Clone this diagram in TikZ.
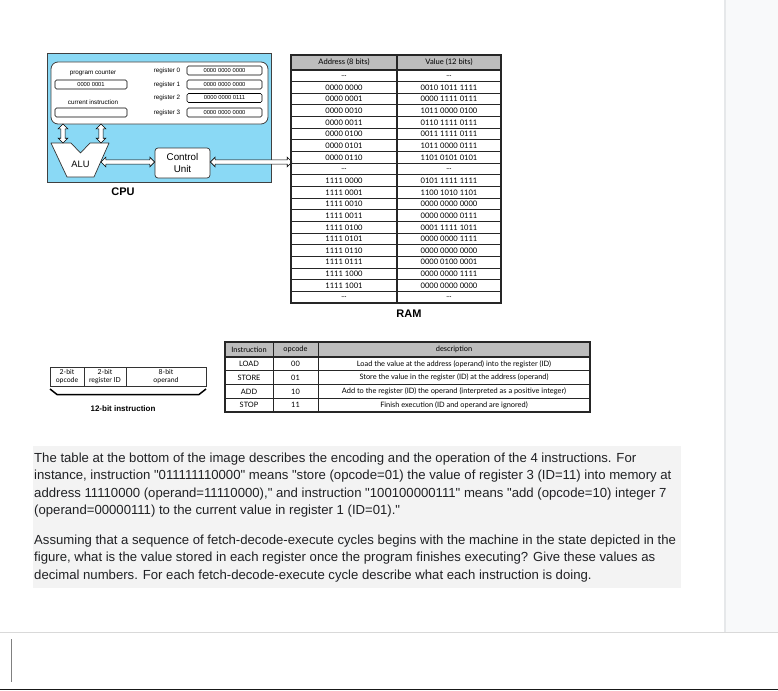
\documentclass[tikz,border=0pt]{standalone}
\usepackage{fontspec}
\setmainfont{Liberation Sans}[Ligatures=TeXOff]
\newfontfamily\gill{Lato}
\usetikzlibrary{shapes.arrows,calc}
\definecolor{cpublue}{HTML}{8AD9F5}
\definecolor{hdrgray}{HTML}{BDBDBD}
\definecolor{parbg}{HTML}{F3F3F3}
\definecolor{partext}{HTML}{202124}
\definecolor{panel}{HTML}{F8F9FA}
\definecolor{panelline}{HTML}{E6E8EA}
\definecolor{sepline}{HTML}{D9D9D9}
\newcommand{\ellip}{...}
\newcommand{\blockarrow}[3]{%
  \path let \p1=($(#2)-(#1)$), \n1={veclen(\x1,\y1)} in
    node[barrow, minimum height=\n1, rotate=#3] at ($(#1)!0.5!(#2)$) {};}
\begin{document}
\begin{tikzpicture}[x=1pt,y=-1pt,
  lbl/.style={font=\fontsize{6.3}{7}\selectfont, inner sep=0pt},
  regbox/.style={draw, rounded corners=1.5pt, line width=0.6pt, minimum width=75pt, minimum height=9pt, font=\fontsize{5.8}{6}\selectfont, inner sep=0pt},
  pcbox/.style={regbox, minimum width=72pt},
  cell/.style={font=\gill\fontsize{7.6}{8}\selectfont, inner sep=0pt},
  icell/.style={font=\gill\fontsize{7.4}{8.5}\selectfont, inner sep=0pt},
  fcell/.style={font=\gill\fontsize{6.9}{7.6}\selectfont, inner sep=0pt, align=center},
  barrow/.style={double arrow, draw, fill=white, line width=0.6pt, inner xsep=0pt, inner ysep=1.8pt, double arrow head extend=2.7pt},
  rowline/.style={line width=1.1pt, black!85},
  bold/.style={font=\bfseries\fontsize{11}{12}\selectfont, inner sep=0pt},
  ptext/.style={font=\fontsize{13.15}{15}\selectfont, text=partext, inner sep=0pt, anchor=base west}
]
\useasboundingbox (0,0) rectangle (778,690);
\fill[white] (0,0) rectangle (778,690);
% right panel and page chrome
\fill[panel] (725,0) rectangle (778,632);
\draw[panelline, line width=1.5pt] (725,0) -- (725,632);
\draw[sepline, line width=1pt] (0,632) -- (778,632);
\draw[black!50, line width=0.6pt] (11,639) -- (11,682);
\fill[black!90] (0,688.6) rectangle (778,690);

% ---------------- CPU ----------------
\draw[fill=cpublue, draw=black!75, line width=0.9pt] (47,53) rectangle (271,182);
\draw[fill=white, draw=black!75, line width=0.8pt, rounded corners=7pt] (51,62) rectangle (268,124);
\coordinate (regsbot1) at (63,124);
\coordinate (regsbot2) at (101,124);
\node[lbl] (pclbl) at (93,72.7) {program counter};
\node[pcbox] (pc) at (91,84.5) {0000 0001};
\node[lbl] (cilbl) at (93,102) {current instruction};
\node[pcbox] (ci) at (91,112.5) {};
\node[lbl] (r0l) at (167,70.5) {register 0};
\node[lbl] (r1l) at (167,84.5) {register 1};
\node[lbl] (r2l) at (167,98) {register 2};
\node[lbl] (r3l) at (167,112.5) {register 3};
\node[regbox] (r0) at (224.5,70.5) {0000 0000 0000};
\node[regbox] (r1) at (224.5,84.5) {0000 0000 0000};
\node[regbox] (r2) at (224.5,98) {0000 0000 0111};
\node[regbox] (r3) at (224.5,112.5) {0000 0000 0000};
% ALU
\draw[fill=white, draw=black!80, line width=0.7pt, line join=round]
  (51,143) -- (71,143) -- (80.5,153) -- (90,143) -- (109,143) -- (94,177) -- (67,177) -- cycle;
\node[font=\fontsize{9.3}{10}\selectfont, inner sep=0pt] (alu) at (80.5,164) {ALU};
\coordinate (alutop1) at (63,143);
\coordinate (alutop2) at (101,143);
\coordinate (aluright) at (101,162);
% Control unit
\node[draw=black!80, fill=white, line width=0.7pt, rounded corners=3pt, minimum width=55pt, minimum height=30pt, align=center, inner sep=0pt,
  font=\fontsize{9.8}{12}\selectfont] (cu) at (182.5,163) {Control\\Unit};
\coordinate (ramleft) at (292,162);
\blockarrow{regsbot1}{alutop1}{90}
\blockarrow{regsbot2}{alutop2}{90}
\blockarrow{aluright}{cu.west |- aluright}{0}
\blockarrow{cu.east |- ramleft}{ramleft}{0}
\node[bold] (cpu) at (123,192) {CPU};

% ---------------- RAM ----------------
\fill[hdrgray] (291,55) rectangle (501,70);
\foreach \i in {1,...,19} \draw[rowline] (291,{70+11.65*\i}) -- (501,{70+11.65*\i});
\draw[line width=1.1pt, black!85] (291,70) -- (501,70);
\draw[line width=1.1pt, black!85] (397,55) -- (397,303);
\draw[line width=1.2pt, black!85] (291,55) rectangle (501,303);
\node[cell] (hA) at (344,62.5) {Address (8 bits)};
\node[cell] (hV) at (449,62.5) {Value (12 bits)};
\foreach \a/\v [count=\i from 0] in {\ellip/\ellip, 0000 0000/0010 1011 1111, 0000 0001/0000 1111 0111,
  0000 0010/1011 0000 0100, 0000 0011/0110 1111 0111, 0000 0100/0011 1111 0111, 0000 0101/1011 0000 0111,
  0000 0110/1101 0101 0101, \ellip/\ellip, 1111 0000/0101 1111 1111, 1111 0001/1100 1010 1101,
  1111 0010/0000 0000 0000, 1111 0011/0000 0000 0111, 1111 0100/0001 1111 1011, 1111 0101/0000 0000 1111,
  1111 0110/0000 0000 0000, 1111 0111/0000 0100 0001, 1111 1000/0000 0000 1111, 1111 1001/0000 0000 0000,
  \ellip/\ellip}{
  \node[cell] (addr\i) at (344,{70+11.65*(\i+0.5)}) {\a};
  \node[cell] (val\i) at (449,{70+11.65*(\i+0.5)}) {\v};
}
\node[bold] (ram) at (409,314) {RAM};

% ---------------- instruction format ----------------
\draw[line width=0.6pt, black!80] (50,367) rectangle (206,386);
\draw[line width=0.6pt, black!80] (84,367) -- (84,386) (126,367) -- (126,386);
\node[fcell] (f1) at (67,376.5) {2-bit\\opcode};
\node[fcell] (f2) at (105,376.5) {2-bit\\register ID};
\node[fcell] (f3) at (166,376.5) {8-bit\\operand};
\draw[line width=1.5pt, line join=round] (50,389) -- (57,394.5) -- (199,394.5) -- (206,389);
\node[font=\bfseries\fontsize{8}{9}\selectfont, inner sep=0pt] (fmt) at (123,409) {12-bit instruction};

% ---------------- instruction table ----------------
\fill[hdrgray] (225,342) rectangle (590,357);
\foreach \i in {1,2,3} \draw[rowline] (225,{357+13.75*\i}) -- (590,{357+13.75*\i});
\draw[line width=1.1pt, black!85] (225,357) -- (590,357);
\draw[line width=1pt, black!85] (273,342) -- (273,412) (318,342) -- (318,412);
\draw[line width=1.2pt, black!85] (225,342) rectangle (590,412);
\node[icell] (hI) at (249,349.5) {Instruction};
\node[icell] (hO) at (295.5,349.5) {opcode};
\node[icell] (hD) at (454,349.5) {description};
\foreach \n/\o/\d [count=\i from 0] in {LOAD/00/Load the value at the address (operand) into the register (ID),
  STORE/01/Store the value in the register (ID) at the address (operand),
  ADD/10/Add to the register (ID) the operand (interpreted as a positive integer),
  STOP/11/Finish execution (ID and operand are ignored)}{
  \node[icell] (in\i) at (249,{357+13.75*(\i+0.5)}) {\n};
  \node[icell] (op\i) at (295.5,{357+13.75*(\i+0.5)}) {\o};
  \node[icell] (de\i) at (454,{357+13.75*(\i+0.5)}) {\d};
}

% ---------------- paragraph ----------------
\fill[parbg] (33,446) rectangle (681,588);
\node[ptext] (p1) at (34,462) {The table at the bottom of the image describes the encoding and the operation of the 4 instructions. For};
\node[ptext] (p2) at (34,479.5) {instance, instruction "011111110000" means "store (opcode=01) the value of register 3 (ID=11) into memory at};
\node[ptext] (p3) at (34,497) {address 11110000 (operand=11110000)," and instruction "100100000111" means "add (opcode=10) integer 7};
\node[ptext] (p4) at (34,514.5) {(operand=00000111) to the current value in register 1 (ID=01)."};
\node[ptext] (p5) at (34,544) {Assuming that a sequence of fetch-decode-execute cycles begins with the machine in the state depicted in the};
\node[ptext] (p6) at (34,561.5) {figure, what is the value stored in each register once the program finishes executing? Give these values as};
\node[ptext] (p7) at (34,579) {decimal numbers. For each fetch-decode-execute cycle describe what each instruction is doing.};
\end{tikzpicture}
\end{document}
